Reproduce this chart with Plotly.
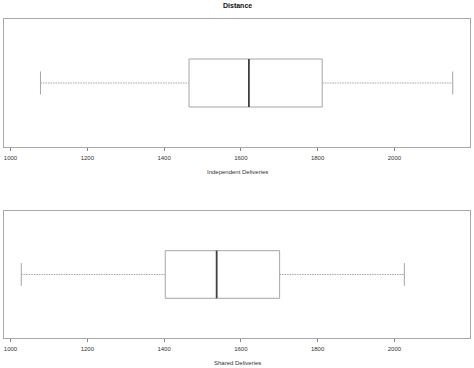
import plotly.graph_objects as go

# Summary statistics
groups = ["Independent Deliveries", "Shared Deliveries"]
lower_whisker = [1078, 1028]
q1 = [1465, 1403]
median = [1621, 1537]
q3 = [1812, 1701]
upper_whisker = [2152, 2026]
tick_vals = [1000, 1200, 1400, 1600, 1800, 2000]
tick_text = ["1000", "1200", "1400", "1600", "1800", "2000"]
title = "Distance"

W, H = 474, 368
FONT = "Liberation Sans, Arial, sans-serif"
BOX_C = "#a6a6a6"
MED_C = "#404040"
FRAME_C = "#a8a8a8"

# panel placement in pixels (top, bottom)
panels = [(19, 147), (211, 338)]
x_left, x_right = 4, 470

fig = go.Figure()
hw = 0.375  # half box height in y units (y range -1..1)
cap = 0.18

for i in range(2):
    xa = "x" if i == 0 else "x2"
    ya = "y" if i == 0 else "y2"
    # whiskers (dotted)
    for a, b in [(lower_whisker[i], q1[i]), (q3[i], upper_whisker[i])]:
        fig.add_trace(go.Scatter(x=[a, b], y=[0, 0], mode="lines",
                                 line=dict(color=BOX_C, width=1, dash="1.5px,1px"),
                                 xaxis=xa, yaxis=ya, showlegend=False, hoverinfo="skip"))
    # caps
    for v in [lower_whisker[i], upper_whisker[i]]:
        fig.add_trace(go.Scatter(x=[v, v], y=[-cap, cap], mode="lines",
                                 line=dict(color=BOX_C, width=1),
                                 xaxis=xa, yaxis=ya, showlegend=False, hoverinfo="skip"))
    # box
    fig.add_trace(go.Scatter(x=[q1[i], q3[i], q3[i], q1[i], q1[i]],
                             y=[-hw, -hw, hw, hw, -hw], mode="lines",
                             line=dict(color=BOX_C, width=1),
                             xaxis=xa, yaxis=ya, showlegend=False, hoverinfo="skip"))
    # median
    fig.add_trace(go.Scatter(x=[median[i], median[i]], y=[-hw, hw], mode="lines",
                             line=dict(color=MED_C, width=1.8),
                             xaxis=xa, yaxis=ya, showlegend=False, hoverinfo="skip"))

xr = [983, 2197]
xdom = [x_left / W, x_right / W]
common_x = dict(range=xr, domain=xdom, showline=True, mirror=True, linecolor=FRAME_C,
                linewidth=1, showgrid=False, zeroline=False, ticks="outside", ticklen=3,
                tickcolor="#888888", tickvals=tick_vals, ticktext=tick_text,
                ticklabelstandoff=2,
                tickfont=dict(family=FONT, size=6, color="#333333"))
common_y = dict(range=[-1, 1], showline=True, mirror=True, linecolor=FRAME_C, linewidth=1,
                showgrid=False, zeroline=False, showticklabels=False, ticks="")

(t1, b1), (t2, b2) = panels
fig.update_layout(
    width=W, height=H, autosize=False,
    margin=dict(l=0, r=0, t=0, b=0),
    paper_bgcolor="white", plot_bgcolor="white",
    xaxis=dict(**common_x, anchor="y"),
    yaxis=dict(**common_y, domain=[1 - b1 / H, 1 - t1 / H], anchor="x"),
    xaxis2=dict(**common_x, anchor="y2"),
    yaxis2=dict(**common_y, domain=[1 - b2 / H, 1 - t2 / H], anchor="x2"),
    annotations=[
        dict(text="<b>" + title + "</b>", x=0.5, y=1 - 5.7 / H, xref="paper", yref="paper",
             showarrow=False, font=dict(family=FONT, size=7, color="#111111"),
             xanchor="center", yanchor="middle"),
        dict(text=groups[0], x=0.5, y=1 - 172.3 / H, xref="paper", yref="paper",
             showarrow=False, font=dict(family=FONT, size=6, color="#333333"),
             xanchor="center", yanchor="middle"),
        dict(text=groups[1], x=0.5, y=1 - 363 / H, xref="paper", yref="paper",
             showarrow=False, font=dict(family=FONT, size=6, color="#333333"),
             xanchor="center", yanchor="middle"),
    ],
)

fig.write_html("out.html", config={"displayModeBar": False},
               post_script="document.body.style.margin='0';document.body.style.overflow='hidden';")
